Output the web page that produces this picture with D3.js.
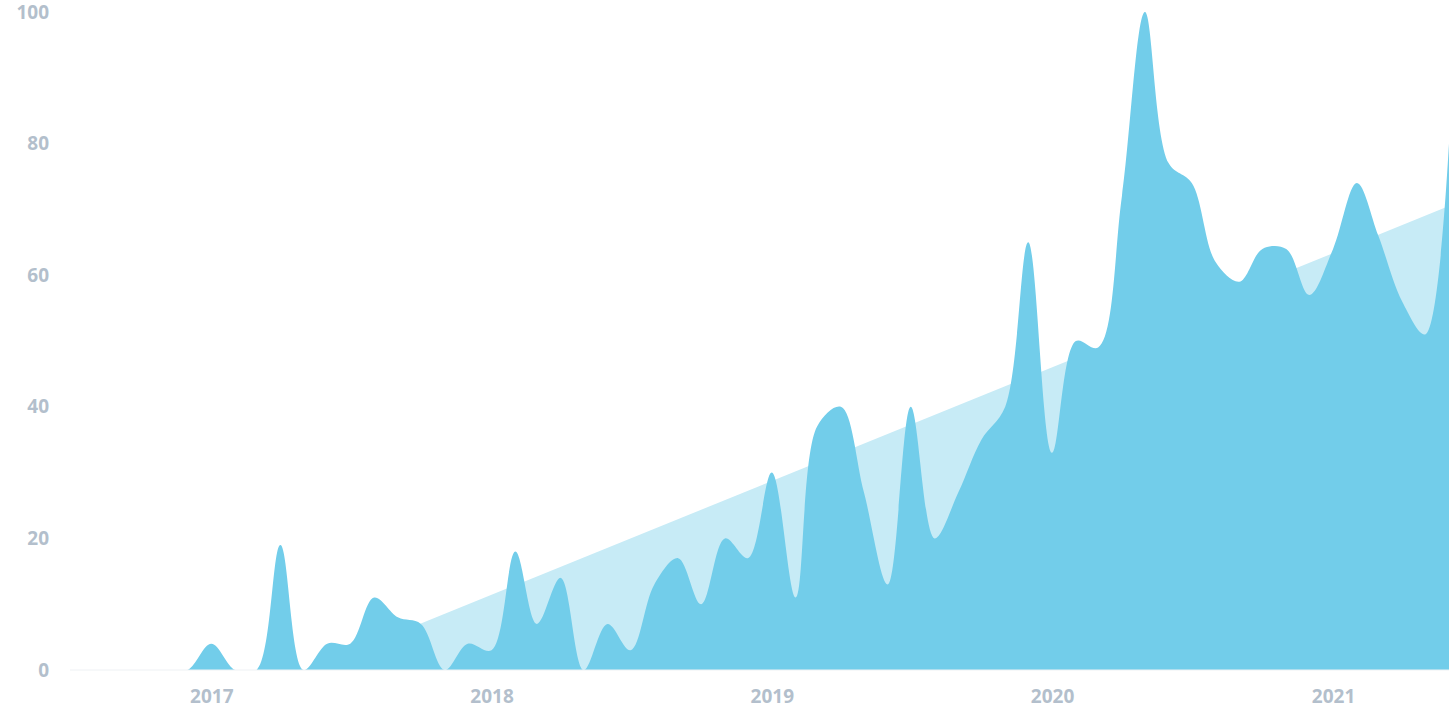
<!DOCTYPE html>
<html>
<head>
<meta charset="utf-8">
<script src="https://cdn.jsdelivr.net/npm/d3@7"></script>
<style>
  body { margin: 0; background: #fff; }
  .tick text { font-family: "Open Sans", sans-serif; font-weight: 700; font-size: 19px; fill: #b3bfcc; }
</style>
</head>
<body>
<div id="chart"></div>
<script>
// monthly values, Jul 2016 .. Jun 2021
const startMonth = "2016-07";
const values = [0, 0, 0, 0, 0, 0,
  4, 0, 0, 19, 0, 4, 4, 11, 8, 7, 0, 4,
  3, 18, 7, 14, 0, 7, 3, 13, 17, 10, 20, 17,
  30, 11, 37, 40, 27, 13, 40, 20, 27, 35, 40, 65,
  33, 50, 49, 72, 100, 77, 74, 62, 59, 64, 64, 57,
  64, 74, 66, 56, 51, 80];
const trendStart = { date: "2017-05-05", value: 0 };
const trendEnd = { date: "2021-06-01", value: 70.5 };
const yTicks = [0, 20, 40, 60, 80, 100];
const xTicks = ["2017", "2018", "2019", "2020", "2021"];

const width = 1453, height = 726;
const margin = { top: 12, right: 4, bottom: 56, left: 70 };

const parse = d3.timeParse("%Y-%m");
const parseDay = d3.timeParse("%Y-%m-%d");
const t0 = parse(startMonth);
const data = values.map((v, i) => ({ x: d3.timeMonth.offset(t0, i), y: v }));

const x = d3.scaleTime()
    .domain(d3.extent(data, d => d.x))
    .range([margin.left, width - margin.right]);
const y = d3.scaleLinear().domain([0, 100]).range([height - margin.bottom, margin.top]);

const svg = d3.select("#chart").append("svg")
    .attr("width", width).attr("height", height);

svg.append("clipPath").attr("id", "clip")
  .append("rect")
    .attr("x", margin.left).attr("y", 0)
    .attr("width", width - margin.left - margin.right)
    .attr("height", y(0));

const trend = [
    { x: parseDay(trendStart.date), y: trendStart.value },
    { x: parseDay(trendEnd.date), y: trendEnd.value }
];
svg.append("path")
    .attr("d", d3.area().x(d => x(d.x)).y0(y(0)).y1(d => y(d.y))(trend))
    .style("fill", "#c7ebf6");

svg.append("path")
    .attr("clip-path", "url(#clip)")
    .attr("d", d3.area()
        .curve(d3.curveCatmullRom.alpha(0.5))
        .x(d => x(d.x)).y0(y(0)).y1(d => Math.min(y(0), y(d.y)))(data))
    .style("fill", "#72cdea");

svg.append("line")
    .attr("x1", margin.left).attr("x2", width - margin.right)
    .attr("y1", y(0)).attr("y2", y(0))
    .style("stroke", "#eef1f4");

svg.append("g")
    .attr("transform", `translate(${margin.left - 18},0)`)
    .call(d3.axisLeft(y).tickValues(yTicks).tickSize(0))
    .call(g => g.select(".domain").remove());

svg.append("g")
    .attr("transform", `translate(0,${y(0) + 16})`)
    .call(d3.axisBottom(x).tickValues(xTicks.map(s => d3.timeParse("%Y")(s))).tickFormat(d3.timeFormat("%Y")).tickSize(0))
    .call(g => g.select(".domain").remove());
</script>
</body>
</html>
